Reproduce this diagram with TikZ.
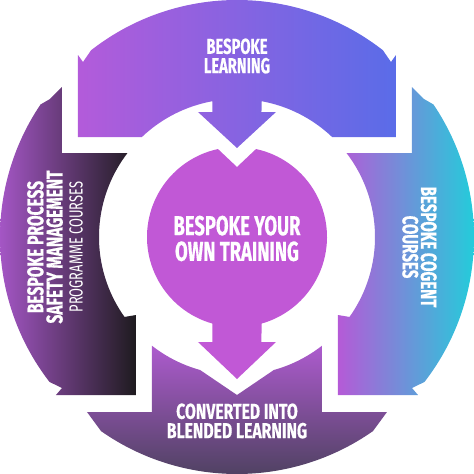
\documentclass[tikz,border=0pt]{standalone}
\usepackage{fontspec}
\newfontfamily\bannerfont[FakeStretch=0.68, BoldFeatures={FakeBold=0.5}]{Fira Sans}
\newfontfamily\hubfont[FakeStretch=0.67, BoldFeatures={FakeBold=0.5}]{Fira Sans}
\newfontfamily\basefont[FakeStretch=0.73, BoldFeatures={FakeBold=0.5}]{Fira Sans}

\definecolor{topL}{HTML}{B35BDA}
\definecolor{topR}{HTML}{5A6CE8}
\definecolor{rightL}{HTML}{B55AD7}
\definecolor{rightR}{HTML}{12DADB}
\definecolor{leftL}{HTML}{B45DD9}
\definecolor{leftR}{HTML}{1E1B1F}
\definecolor{baseT}{HTML}{AD5BCE}
\definecolor{baseB}{HTML}{463F57}
\definecolor{hub}{HTML}{C158D6}

\tikzset{
    label text/.style={text=white, align=center, inner sep=0pt},
}

\begin{document}
\begin{tikzpicture}[x=0.02cm, y=-0.02cm]
    \useasboundingbox (-237,-237) rectangle (237,237);

    % top
    \shade [left color=topL, right color=topR] (-159,-100) -- (-159,-182) -- (-154,-175) -- (-128:237)
        arc [start angle=-128, end angle=-52, radius=237] -- (154,-175) -- (159,-182) -- (159,-100)
        -- (95.1,-100) arc [start angle=-46.44, end angle=-79.77, radius=138]
        -- (24.5,-125) -- (39,-125) -- (0,-89) -- (-39,-125) -- (-24.5,-125) -- (-24.5,-135.8)
        arc [start angle=-100.23, end angle=-133.56, radius=138] -- cycle;

    % right
    \shade [left color=rightL, right color=rightR] (101,158) -- (181,158) -- (175,151) -- (37.7:237)
        arc [start angle=37.7, end angle=-34, radius=237] -- (187,-138) -- (175,-150) -- (175,-84)
        -- (109.5,-84) arc [start angle=-37.5, end angle=35.4, radius=138] -- (101,78) -- cycle;

    % left
    \shade [left color=leftL, right color=leftR] (-101,158) -- (-181,158) -- (-175,151) -- (142.3:237)
        arc [start angle=142.3, end angle=214, radius=237] -- (-187,-138) -- (-175,-150) -- (-175,-84)
        -- (-109.5,-84) arc [start angle=-142.5, end angle=-215.4, radius=138] -- (-101,78) -- cycle;

    % bottom
    \shade [top color=baseT, bottom color=baseB] (-85,175) -- (-150,175) -- (125:237)
        arc [start angle=125, end angle=55, radius=237] -- (150,175) -- (85,175)
        -- (85,108.7) arc [start angle=51.97, end angle=74.5, radius=138] -- (0,158)
        -- (-36.9,133) arc [start angle=105.5, end angle=128.03, radius=138] -- cycle;

    % hub with its arrow
    \fill [hub] (0,-70) -- (-77.8:90) arc [start angle=-77.8, end angle=74.2, radius=90]
        -- (24.5,105) -- (39,105) -- (0,142) -- (-39,105) -- (-24.5,105) -- (-24.5,86.6)
        arc [start angle=105.8, end angle=257.8, radius=90] -- cycle;

    \node [label text, font=\bannerfont\bfseries\fontsize{12.3}{11}\selectfont] (learning) at (0,-181) {BESPOKE\\LEARNING};
    \node [label text, font=\hubfont\bfseries\fontsize{15.6}{14.6}\selectfont] (own) at (0,1.5) {BESPOKE YOUR\\OWN TRAINING};
    \node [label text, font=\basefont\bfseries\fontsize{12.3}{11}\selectfont] (blended) at (0,184) {CONVERTED INTO\\BLENDED LEARNING};
    \node [label text, rotate=90, font=\bannerfont\bfseries\fontsize{13}{10.9}\selectfont] (safety) at (-192,10) {BESPOKE PROCESS\\SAFETY MANAGEMENT};
    \node [label text, rotate=90, font=\bannerfont\fontsize{10.8}{10}\selectfont] (programme) at (-161,10) {PROGRAMME COURSES};
    \node [label text, rotate=-90, font=\bannerfont\bfseries\fontsize{12.6}{10.5}\selectfont] (cogent) at (182.5,10) {BESPOKE COGENT\\COURSES};
\end{tikzpicture}
\end{document}
